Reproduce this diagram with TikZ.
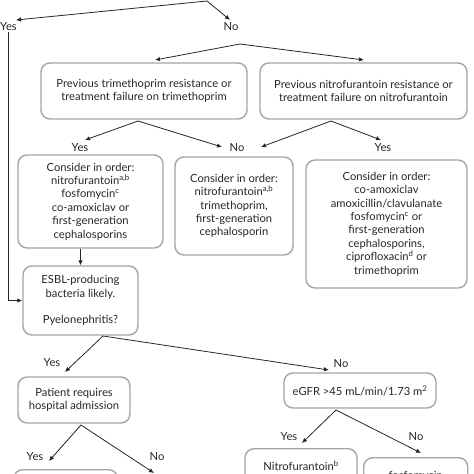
\documentclass[tikz,border=0pt]{standalone}
\usepackage{fontspec}
\setmainfont{Lato}
\usetikzlibrary{arrows.meta,calc}
\definecolor{boxgray}{HTML}{A5A5A5}
\definecolor{txt}{HTML}{262626}
\begin{document}
\begin{tikzpicture}[x=1pt,y=-1pt,
  box/.style={draw=boxgray, line width=1.4pt, rounded corners=9pt, align=center, text=txt,
    font=\fontsize{11.2}{13.4}\selectfont, inner sep=0pt},
  lab/.style={text=txt, font=\fontsize{11.2}{12}\selectfont, inner sep=1pt},
  arr/.style={-{Latex[length=5pt,width=4.5pt]}, line width=0.8pt, draw=black!85}]
\useasboundingbox (0,0) rectangle (474,474);
\clip (0,0) rectangle (474,474);

% boxes
\node[box, minimum width=206pt, minimum height=56pt] (A) at (144,91)
  {Previous trimethoprim resistance or\\treatment failure on trimethoprim};
\node[box, minimum width=207pt, minimum height=56pt] (B) at (363.5,91)
  {Previous nitrofurantoin resistance or\\treatment failure on nitrofurantoin};
\node[box, minimum width=145pt, minimum height=93pt] (C) at (90.5,201.5)
  {Consider in order:\\nitrofurantoin\textsuperscript{a,b}\\fosfomycin\textsuperscript{c}\\co-amoxiclav or\\first-generation\\cephalosporins};
\node[box, minimum width=118pt, minimum height=98pt] (D) at (234,206)
  {Consider in order:\\nitrofurantoin\textsuperscript{a,b}\\trimethoprim,\\first-generation\\cephalosporin};
\node[box, minimum width=161pt, minimum height=128pt] (E) at (386.5,224)
  {Consider in order:\\co-amoxiclav\\amoxicillin/clavulanate\\fosfomycin\textsuperscript{c} or\\first-generation\\cephalosporins,\\ciprofloxacin\textsuperscript{d} or\\trimethoprim};
\node[box, minimum width=115pt, minimum height=69pt] (F) at (80.5,300.5)
  {ESBL-producing\\bacteria likely.\\[13pt]Pyelonephritis?};
\node[box, minimum width=112pt, minimum height=46pt] (G) at (74,400)
  {Patient requires\\hospital admission};
\node[box, minimum width=152pt, minimum height=35pt] (H) at (360,390.5)
  {eGFR >45 mL/min/1.73 m\textsuperscript{2}};
\node[box, anchor=north west, minimum width=104pt, minimum height=40pt] (I) at (13,469) {};
\node[box, anchor=north, minimum width=112pt, text height=22pt, text depth=40pt] (J) at (301,448)
  {Nitrofurantoin\textsuperscript{b}};
\node[box, anchor=north west, minimum width=104pt, text height=22pt, text depth=40pt] (K) at (363,457)
  {fosfomycin};

% labels
\node[lab] (yes0) at (8.5,27) {Yes};
\node[lab] (no0) at (231,27) {No};
\node[lab] (yesA) at (80,148) {Yes};
\node[lab] (noA) at (237,148) {No};
\node[lab] (yesB) at (383,148) {Yes};
\node[lab] (yesF) at (52,363) {Yes};
\node[lab] (noF) at (341,364) {No};
\node[lab] (yesG) at (35,457) {Yes};
\node[lab] (noG) at (157,457) {No};
\node[lab] (yesH) at (289,437) {Yes};
\node[lab] (noH) at (416,437) {No};

% coordinates
\coordinate (top) at (207,1);
\coordinate (t0y) at (16,20);
\coordinate (t0n) at (230,20);
\coordinate (br0) at (240,44);
\coordinate (tA) at (155,60);
\coordinate (tB) at (364,60);
\coordinate (brA) at (138,121);
\coordinate (tAy) at (85,140);
\coordinate (tAn) at (222,147);
\coordinate (brB) at (331,121);
\coordinate (tBn) at (261,147);
\coordinate (tBy) at (381,140);
\coordinate (brF) at (103,336);
\coordinate (tFy) at (65,372);
\coordinate (tFn) at (329,370);
\coordinate (brG) at (81,425);
\coordinate (tGy) at (49,461);
\coordinate (tGn) at (154,473);
\coordinate (brH) at (336,410);
\coordinate (tHy) at (302,443);
\coordinate (tHn) at (421,453);

% connectors
\draw[arr] (top) -- (t0y);
\draw[arr] (top) -- (t0n);
\draw[arr] (br0) -- (tA);
\draw[arr] (br0) -- (tB);
\draw[arr] (brA) -- (tAy);
\draw[arr] (brA) -- (tAn);
\draw[arr] (brB) -- (tBn);
\draw[arr] (brB) -- (tBy);
\draw[arr] (F.north |- C.south) -- (F.north);
\draw[arr] (yes0.south) |- (F.west);
\draw[arr] (brF) -- (tFy);
\draw[arr] (brF) -- (tFn);
\draw[arr] (brG) -- (tGy);
\draw[arr] (brG) -- (tGn);
\draw[arr] (brH) -- (tHy);
\draw[arr] (brH) -- (tHn);
\end{tikzpicture}
\end{document}
